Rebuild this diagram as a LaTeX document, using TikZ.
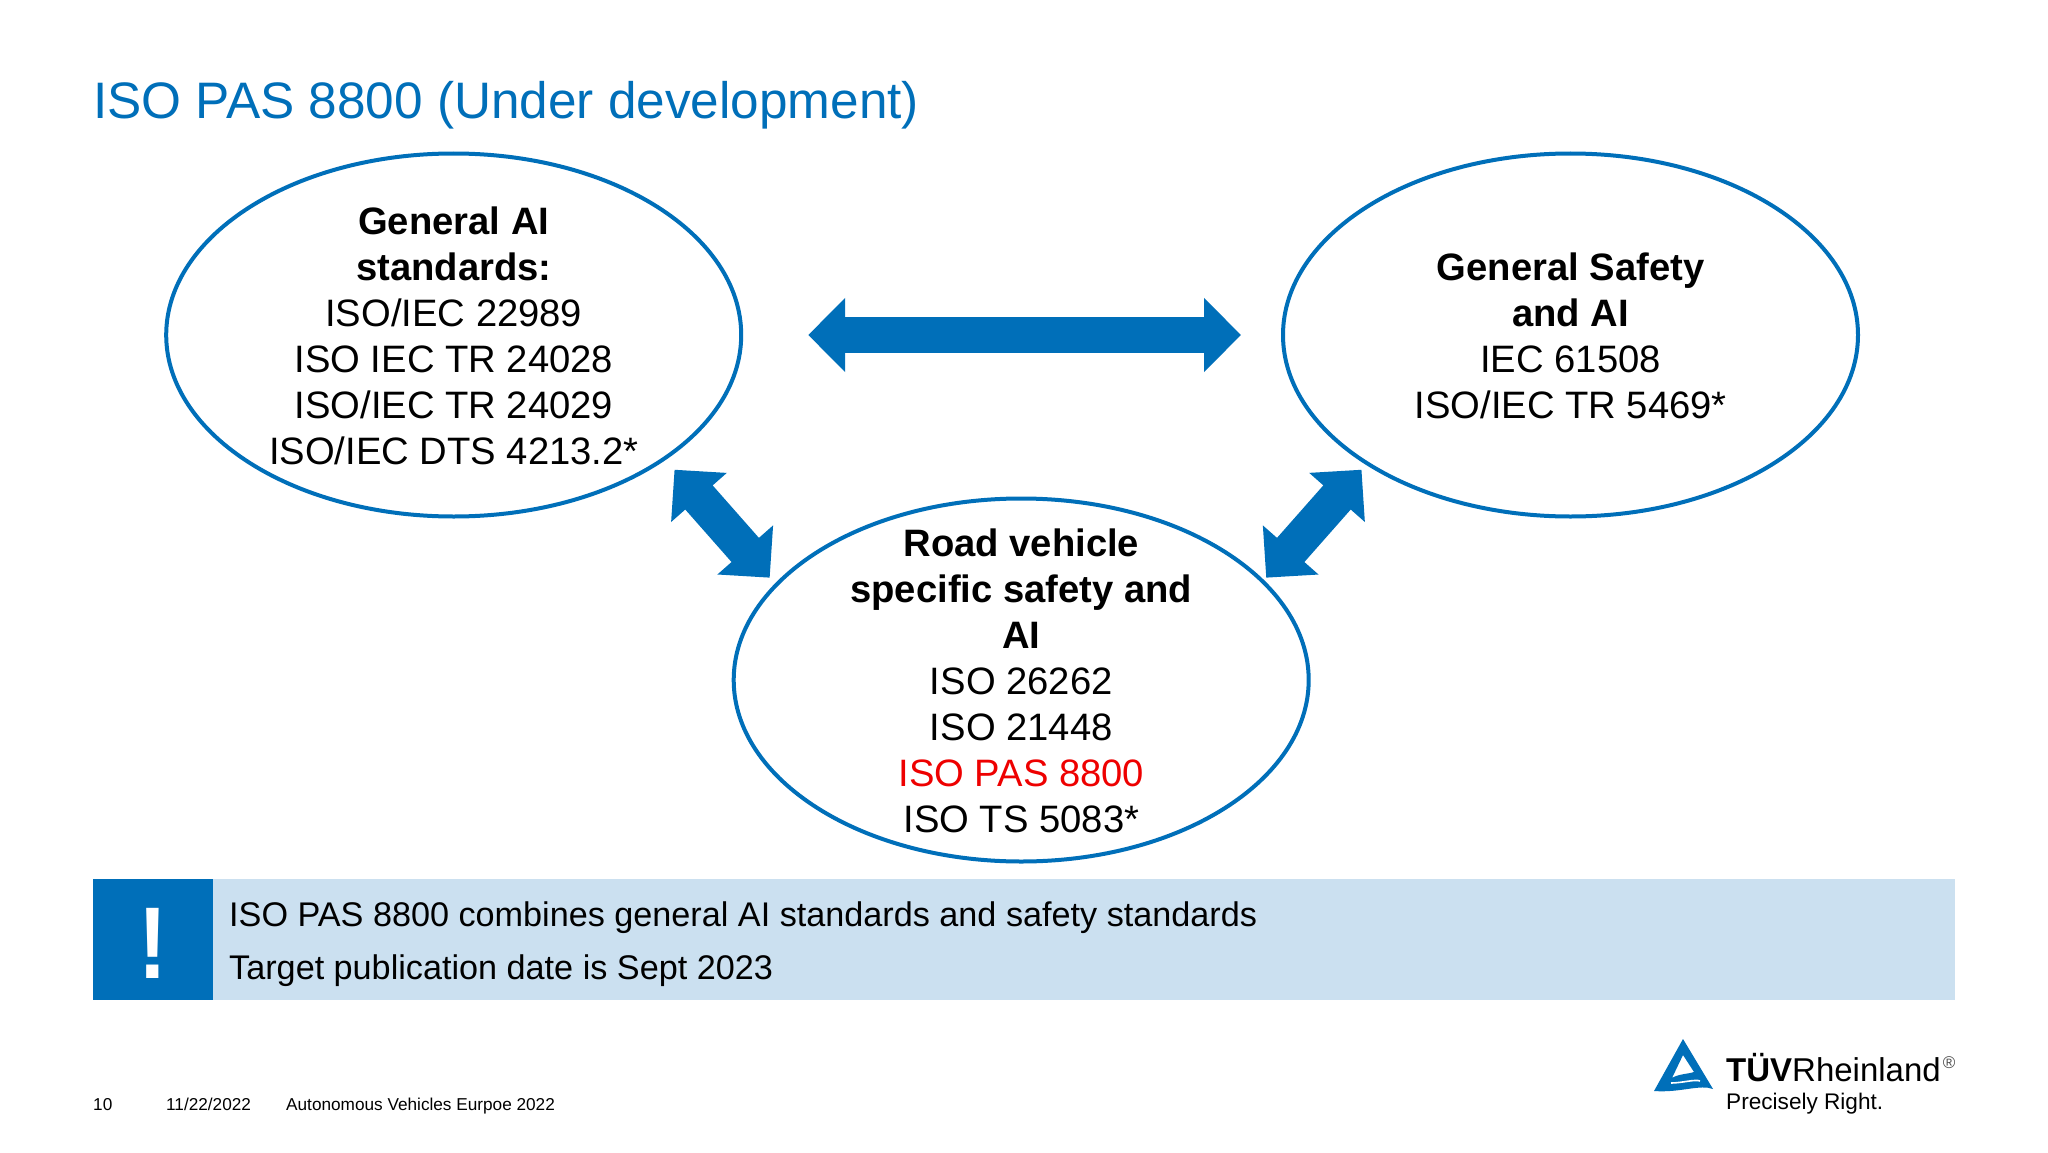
\documentclass[tikz,border=0pt]{standalone}
\usepackage{fontspec}
\setmainfont{Liberation Sans}
\usetikzlibrary{arrows.meta,shapes.geometric}
\definecolor{tuvblue}{RGB}{0,111,185}
\definecolor{bandblue}{RGB}{203,224,240}
\definecolor{pasred}{RGB}{238,0,0}
\tikzset{
  bubble/.style={draw=tuvblue,line width=4pt,shape=ellipse,minimum width=575pt,minimum height=363pt,inner sep=0pt,align=center,fill=white},
  bubbletext/.style={font=\fontsize{38.2pt}{46pt}\selectfont,align=center,text=black,inner sep=0pt},
  blockarrow/.style={line width=36.5pt,draw=tuvblue,{Triangle[length=37pt,width=72pt,fill=tuvblue]}-{Triangle[length=37pt,width=72pt,fill=tuvblue]}},
  bandtext/.style={font=\fontsize{34.2pt}{40pt}\selectfont,anchor=base west,inner sep=0pt,text=black},
  foot/.style={font=\fontsize{17.2pt}{20pt}\selectfont,anchor=base west,inner sep=0pt,text=black}
}
\begin{document}
\begin{tikzpicture}[x=1pt,y=-1pt]
\useasboundingbox (0,0) rectangle (2048,1153);
\fill[white] (0,0) rectangle (2048,1153);
\node[anchor=base west,inner sep=0pt,text=tuvblue,font=\fontsize{51.3pt}{60pt}\selectfont] (title) at (93,119) {ISO PAS 8800 (Under development)};
\node[bubble] (ai) at (453.7,335) {};
\node[bubble] (safety) at (1570.5,335) {};
\node[bubble] (road) at (1021.2,680) {};
\node[bubbletext] (aitext) at (453.8,336) {\textbf{General AI}\\\textbf{standards:}\\ISO/IEC 22989\\ISO IEC TR 24028\\ISO/IEC TR 24029\\ISO/IEC DTS 4213.2*};
\node[bubbletext] (safetytext) at (1570.6,335.8) {\textbf{General Safety}\\\textbf{and AI}\\IEC 61508\\ISO/IEC TR 5469*};
\node[bubbletext] (roadtext) at (1021.3,681) {\textbf{Road vehicle}\\\textbf{specific safety and}\\\textbf{AI}\\ISO 26262\\ISO 21448\\\textcolor{pasred}{ISO PAS 8800}\\ISO TS 5083*};
\coordinate (aiLow) at (674.5,469.7);
\coordinate (roadLeft) at (769.7,577.7);
\coordinate (safetyLow) at (1361.5,469.7);
\coordinate (roadRight) at (1266.2,577.7);
\draw[blockarrow,shorten <=65pt,shorten >=40pt] (ai.east) -- (safety.west);
\draw[blockarrow] (aiLow) -- (roadLeft);
\draw[blockarrow] (safetyLow) -- (roadRight);
\fill[bandblue] (212.9,879) rectangle (1955,1000.4);
\fill[tuvblue] (92.7,879) rectangle (212.9,1000.4);
\node[inner sep=0pt,text=white,xscale=0.85,font=\bfseries\fontsize{102pt}{104pt}\selectfont] (bang) at (153,943.5) {!};
\node[bandtext] (b1) at (229,926) {ISO PAS 8800 combines general AI standards and safety standards};
\node[bandtext] (b2) at (229,979) {Target publication date is Sept 2023};
\node[foot] (f1) at (93,1110) {10};
\node[foot] (f2) at (166,1110) {11/22/2022};
\node[foot] (f3) at (286,1110) {Autonomous Vehicles Eurpoe 2022};
\fill[tuvblue,even odd rule] (1683,1039) -- (1713,1089) .. controls (1700,1084) and (1680,1093) .. (1654,1091) -- cycle
  (1683,1055) -- (1694,1072) .. controls (1688,1074) and (1678,1074) .. (1672,1078) -- cycle;
\draw[white,line width=1.6pt] (1671,1083) .. controls (1682,1083) and (1695,1079) .. (1700,1081);
\node[anchor=base west,inner sep=0pt,font=\fontsize{33pt}{36pt}\selectfont] (logo) at (1726,1081.5) {\textbf{TÜV}Rheinland};
\node[inner sep=0pt,font=\fontsize{17pt}{18pt}\selectfont,text=black!70] (reg) at (1949,1063) {®};
\node[anchor=base west,inner sep=0pt,font=\fontsize{22.6pt}{24pt}\selectfont] (claim) at (1726,1109) {Precisely Right.};
\end{tikzpicture}
\end{document}
